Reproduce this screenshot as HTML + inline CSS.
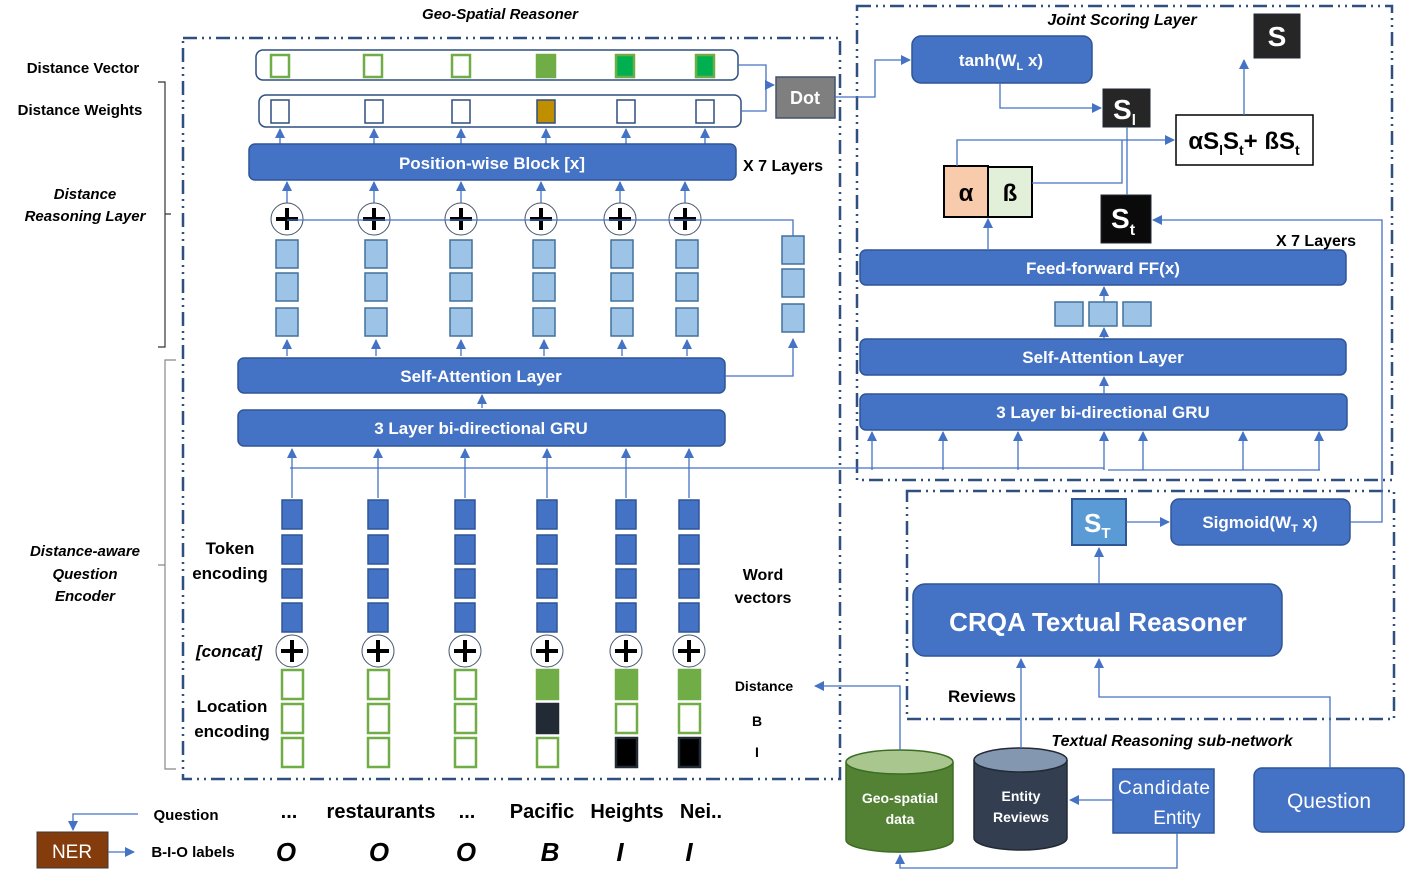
<!DOCTYPE html>
<html><head><meta charset="utf-8"><style>
html,body{margin:0;padding:0;background:#fff}
svg{display:block}
text{font-family:"Liberation Sans",sans-serif}
.b{font-weight:bold}
.w{fill:#fff;font-weight:bold}
</style></head><body>
<svg id="s" width="1419" height="891" viewBox="0 0 1419 891" xmlns="http://www.w3.org/2000/svg">
<defs>
<marker id="a" markerWidth="10" markerHeight="10" refX="9" refY="5" orient="auto" markerUnits="userSpaceOnUse">
<path d="M0,0 L10,5 L0,10 z" fill="#4472c4"/></marker>
</defs>
<g fill="none" stroke="#2f4f80" stroke-width="2.5" stroke-dasharray="14 5 2 5 2 5">
<rect x="183" y="38" width="657" height="741"/>
<rect x="857" y="6" width="535" height="474"/>
<rect x="907" y="491" width="487" height="228"/>
</g>
<g id="shapes"></g>
<g fill="#4472c4" stroke="#2f5597" stroke-width="1.5">
<rect x="249" y="144" width="487" height="36" rx="6"/>
<rect x="238" y="358" width="487" height="35" rx="6"/>
<rect x="238" y="410" width="487" height="36" rx="6"/>
<rect x="912" y="36" width="180" height="47" rx="9"/>
<rect x="860" y="250" width="486" height="35" rx="6"/>
<rect x="860" y="339" width="486" height="36" rx="6"/>
<rect x="860" y="394" width="487" height="36" rx="6"/>
<rect x="1171" y="499" width="179" height="46" rx="8"/>
<rect x="913" y="584" width="369" height="72" rx="12"/>
<rect x="1113" y="769" width="101" height="64"/>
<rect x="1254" y="768" width="150" height="64" rx="8"/>
</g>
<rect x="1072" y="499" width="54" height="46" fill="#5b9bd5" stroke="#2f5597" stroke-width="2"/>
<rect x="776" y="77" width="59" height="41" fill="#7f7f7f" stroke="#44546a" stroke-width="1.5"/>
<rect x="1254" y="14" width="46" height="44" fill="#262626" stroke="#222a35"/>
<rect x="1103" y="89" width="47" height="38" fill="#262626" stroke="#222a35"/>
<rect x="1101" y="195" width="50" height="48" fill="#0a0a0a" stroke="#222a35"/>
<rect x="1176" y="115" width="137" height="50" fill="#fff" stroke="#000" stroke-width="1.5"/>
<rect x="944" y="166" width="44" height="51" fill="#f8cbad" stroke="#000" stroke-width="2"/>
<rect x="988" y="167" width="44" height="50" fill="#e2f0d9" stroke="#000" stroke-width="2"/>
<rect x="37" y="832" width="71" height="36" fill="#843c0c" stroke="#3b3838"/>
<path d="M846,762 L846,840 A53,12 0 0 0 953,840 L953,762" fill="#548235" stroke="#3b6e22" stroke-width="1.5"/>
<ellipse cx="899.5" cy="762" rx="53.5" ry="12" fill="#a9c68f" stroke="#3b6e22" stroke-width="1.5"/>
<path d="M974,760 L974,838 A46.5,12 0 0 0 1067,838 L1067,760" fill="#333f50" stroke="#222a35" stroke-width="1.5"/>
<ellipse cx="1020.5" cy="760" rx="46.5" ry="12" fill="#8497b0" stroke="#222a35" stroke-width="1.5"/>
<g fill="none" stroke="#4472c4" stroke-width="1.3">
<path d="M738,65 H766 V85 H774" marker-end="url(#a)"/>
<path d="M741,111 H766 V85"/>
<path d="M835,97 H875 V60 H910" marker-end="url(#a)"/>
<path d="M1000,83 V108 H1101" marker-end="url(#a)"/>
<path d="M1127,127 V195"/>
<path d="M957,166 V140 H1174" marker-end="url(#a)"/>
<path d="M1032,183 H1122 V140"/>
<path d="M1244,115 V60" marker-end="url(#a)"/>
<path d="M988,249 V219" marker-end="url(#a)"/>
<path d="M1350,522 H1382 V220 H1153" marker-end="url(#a)"/>
<path d="M1104,339 V328" marker-end="url(#a)"/>
<path d="M1104,302 V287" marker-end="url(#a)"/>
<path d="M1104,394 V377" marker-end="url(#a)"/>
<path d="M482,408 V395" marker-end="url(#a)"/>
<path d="M725,376 H793 V339" marker-end="url(#a)"/>
<path d="M287,220 H793 V236"/>
<path d="M290,468 H1104 M1108,470 H1320"/>
<path d="M1126,522 H1169" marker-end="url(#a)"/>
<path d="M1099,584 V548" marker-end="url(#a)"/>
<path d="M1021,748 V659" marker-end="url(#a)"/>
<path d="M1330,768 V697 H1099 V659" marker-end="url(#a)"/>
<path d="M1113,800 H1070" marker-end="url(#a)"/>
<path d="M1177,833 V868 H900 V855" marker-end="url(#a)"/>
<path d="M900,750 V686 H815" marker-end="url(#a)"/>
<path d="M138,814 H73 V830" marker-end="url(#a)"/>
<path d="M108,852 H134" marker-end="url(#a)"/>
</g>
<g fill="none" stroke="#333" stroke-width="1.2">
<path d="M158,82 H165 V347 H158 M165,214 H171"/>
<path d="M176,360 H165 V769 H176 M165,565 H158" stroke="#888"/>
</g>
<text x="500" y="19" text-anchor="middle" class="b" font-style="italic" font-size="15">Geo-Spatial Reasoner</text>
<text x="1122" y="25" text-anchor="middle" class="b" font-style="italic" font-size="16">Joint Scoring Layer</text>
<text x="83" y="73" text-anchor="middle" class="b" font-size="15">Distance Vector</text>
<text x="80" y="115" text-anchor="middle" class="b" font-size="15">Distance Weights</text>
<text x="85" y="199" text-anchor="middle" class="b" font-style="italic" font-size="15">Distance</text>
<text x="85" y="221" text-anchor="middle" class="b" font-style="italic" font-size="15">Reasoning Layer</text>
<text x="85" y="556" text-anchor="middle" class="b" font-style="italic" font-size="15">Distance-aware</text>
<text x="85" y="579" text-anchor="middle" class="b" font-style="italic" font-size="15">Question</text>
<text x="85" y="601" text-anchor="middle" class="b" font-style="italic" font-size="15">Encoder</text>
<text x="492" y="169" text-anchor="middle" class="w" font-size="17">Position-wise Block [x]</text>
<text x="743" y="171" class="b" font-size="16">X 7 Layers</text>
<text x="481" y="382" text-anchor="middle" class="w" font-size="17">Self-Attention Layer</text>
<text x="481" y="434" text-anchor="middle" class="w" font-size="17">3 Layer bi-directional GRU</text>
<text x="805" y="104" text-anchor="middle" class="w" font-size="18">Dot</text>
<text x="1001" y="66" text-anchor="middle" class="w" font-size="17">tanh(W<tspan font-size="11" dy="4">L</tspan><tspan dy="-4"> x)</tspan></text>
<text x="1277" y="46" text-anchor="middle" class="w" font-size="28">S</text>
<text x="1113" y="119" class="w" font-size="28">S<tspan font-size="15" dy="6">l</tspan></text>
<text x="1111" y="228" class="w" font-size="28">S<tspan font-size="16" dy="7">t</tspan></text>
<text x="1244" y="149" text-anchor="middle" class="b" font-size="24">αS<tspan font-size="14" dy="6">l</tspan><tspan dy="-6">S</tspan><tspan font-size="14" dy="6">t</tspan><tspan dy="-6">+ ßS</tspan><tspan font-size="14" dy="6">t</tspan></text>
<text x="966" y="201" text-anchor="middle" class="b" font-size="24">α</text>
<text x="1010" y="201" text-anchor="middle" class="b" font-size="24">ß</text>
<text x="1316" y="246" text-anchor="middle" class="b" font-size="16">X 7 Layers</text>
<text x="1103" y="274" text-anchor="middle" class="w" font-size="17">Feed-forward FF(x)</text>
<text x="1103" y="363" text-anchor="middle" class="w" font-size="17">Self-Attention Layer</text>
<text x="1103" y="418" text-anchor="middle" class="w" font-size="17">3 Layer bi-directional GRU</text>
<text x="1084" y="532" class="w" font-size="26">S<tspan font-size="15" dy="6">T</tspan></text>
<text x="1260" y="528" text-anchor="middle" class="w" font-size="17">Sigmoid(W<tspan font-size="11" dy="4">T</tspan><tspan dy="-4"> x)</tspan></text>
<text x="1098" y="631" text-anchor="middle" class="w" font-size="26">CRQA Textual Reasoner</text>
<text x="982" y="702" text-anchor="middle" class="b" font-size="17">Reviews</text>
<text x="1172" y="746" text-anchor="middle" class="b" font-style="italic" font-size="16">Textual Reasoning sub-network</text>
<text x="900" y="803" text-anchor="middle" class="w" font-size="14">Geo-spatial</text>
<text x="900" y="824" text-anchor="middle" class="w" font-size="14">data</text>
<text x="1021" y="801" text-anchor="middle" class="w" font-size="14">Entity</text>
<text x="1021" y="822" text-anchor="middle" class="w" font-size="14">Reviews</text>
<text x="1164" y="794" text-anchor="middle" fill="#fff" font-size="19" textLength="92">Candidate</text>
<text x="1177" y="824" text-anchor="middle" fill="#fff" font-size="19">Entity</text>
<text x="1329" y="808" text-anchor="middle" fill="#fff" font-size="21">Question</text>
<text x="72" y="858" text-anchor="middle" fill="#fff" font-size="19">NER</text>
<text x="230" y="554" text-anchor="middle" class="b" font-size="17">Token</text>
<text x="230" y="579" text-anchor="middle" class="b" font-size="17">encoding</text>
<text x="229" y="657" text-anchor="middle" class="b" font-style="italic" font-size="17">[concat]</text>
<text x="232" y="712" text-anchor="middle" class="b" font-size="17">Location</text>
<text x="232" y="737" text-anchor="middle" class="b" font-size="17">encoding</text>
<text x="763" y="580" text-anchor="middle" class="b" font-size="16">Word</text>
<text x="763" y="603" text-anchor="middle" class="b" font-size="16">vectors</text>
<text x="764" y="691" text-anchor="middle" class="b" font-size="14">Distance</text>
<text x="757" y="726" text-anchor="middle" class="b" font-size="14">B</text>
<text x="757" y="757" text-anchor="middle" class="b" font-size="14">I</text>
<text x="186" y="820" text-anchor="middle" class="b" font-size="15">Question</text>
<text x="193" y="857" text-anchor="middle" class="b" font-size="15">B-I-O labels</text>
<g class="b" font-size="20" text-anchor="middle">
<text x="289" y="818">...</text><text x="381" y="818">restaurants</text><text x="467" y="818">...</text>
<text x="542" y="818">Pacific</text><text x="627" y="818">Heights</text><text x="701" y="818">Nei..</text>
</g>
<g class="b" font-size="26" font-style="italic" text-anchor="middle">
<text x="286" y="861">O</text><text x="379" y="861">O</text><text x="466" y="861">O</text>
<text x="550" y="861">B</text><text x="620" y="861">I</text><text x="689" y="861">I</text>
</g>
</svg>
<script>
var g=document.getElementById('shapes'),NS='http://www.w3.org/2000/svg';
function el(t,a){var e=document.createElementNS(NS,t);for(var k in a)e.setAttribute(k,a[k]);g.appendChild(e);return e;}
function line(x1,y1,x2,y2,arr){var e=el('path',{d:'M'+x1+','+y1+' L'+x2+','+y2,fill:'none',stroke:'#4472c4','stroke-width':1.3});if(arr)e.setAttribute('marker-end','url(#a)');}
function plus(cx,cy){el('circle',{cx:cx,cy:cy,r:16,fill:'#fff',stroke:'#44546a','stroke-width':1});
 el('path',{d:'M'+(cx-11)+','+cy+' H'+(cx+11)+' M'+cx+','+(cy-11)+' V'+(cy+11),stroke:'#000','stroke-width':4});}
el('rect',{x:256,y:50,width:482,height:30,rx:7,fill:'#fff',stroke:'#2f4f80','stroke-width':1.5});
el('rect',{x:259,y:95,width:482,height:32,rx:7,fill:'#fff',stroke:'#2f4f80','stroke-width':1.5});
var vx=[280,373,461,546,625,705],vf=['#fff','#fff','#fff','#70ad47','#00b050','#00b050'];
vx.forEach(function(x,i){el('rect',{x:x-9,y:55,width:18,height:22,fill:vf[i],stroke:'#70ad47','stroke-width':2.5});});
var wx=[280,374,461,546,626,705];
wx.forEach(function(x,i){el('rect',{x:x-9,y:100,width:18,height:23,fill:i==3?'#bf8f00':'#fff',stroke:'#2f4f80','stroke-width':1.5});line(x,144,x,129,1);});
var px=[287,374,461,541,620,685];
px.forEach(function(x){line(x,203,x,182,1);});
var lc=[287,376,461,544,622,687,793];
lc.forEach(function(x,i){[240,273,308].forEach(function(y,j){if(i==6)y=y-4;el('rect',{x:x-11,y:y,width:22,height:28,fill:'#9dc3e6',stroke:'#41719c','stroke-width':1.5});});
 if(i<6)line(x,356,x,340,1);});
[1055,1089,1123].forEach(function(x){el('rect',{x:x,y:302,width:28,height:24,fill:'#9dc3e6',stroke:'#41719c','stroke-width':1.5});});
var tx=[292,378,465,547,626,689];
tx.forEach(function(x){line(x,498,x,449,1);
 [500,535,569,603].forEach(function(y){el('rect',{x:x-10,y:y,width:20,height:29,fill:'#4472c4',stroke:'#2f5597','stroke-width':1.5});});});
var lf=[['#fff','#fff','#fff'],['#fff','#fff','#fff'],['#fff','#fff','#fff'],['#70ad47','#222a35','#fff'],['#70ad47','#fff','#000'],['#70ad47','#fff','#000']];
tx.forEach(function(x,i){[670,704,738].forEach(function(y,j){el('rect',{x:x-10,y:y,width:21,height:29,fill:lf[i][j],stroke:(lf[i][j]=='#222a35'||lf[i][j]=='#000')?'#222a35':'#70ad47','stroke-width':2.5});});});
[872,943,1018,1104,1143,1243,1319].forEach(function(x){line(x,470,x,432,1);});
px.forEach(function(x){plus(x,219);});
tx.forEach(function(x){plus(x,651);});
</script>
</body></html>
